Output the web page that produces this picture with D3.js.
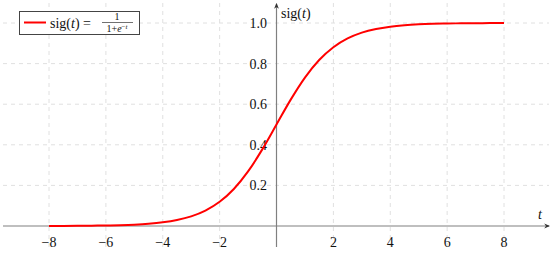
<!DOCTYPE html>
<html>
<head>
<meta charset="utf-8">
<script src="https://cdn.jsdelivr.net/npm/d3@7"></script>
<style>
  body { margin: 0; background: #fff; }
  svg text { font-family: "Liberation Serif", "DejaVu Serif", "Times New Roman", serif; }
</style>
</head>
<body>
<div id="chart"></div>
<script>
// values, every half unit of t
const tValues = [-8, -7.5, -7, -6.5, -6, -5.5, -5, -4.5, -4, -3.5, -3, -2.5, -2, -1.5, -1, -0.5,
  0, 0.5, 1, 1.5, 2, 2.5, 3, 3.5, 4, 4.5, 5, 5.5, 6, 6.5, 7, 7.5, 8];
const sigValues = [0.0003, 0.0006, 0.0009, 0.0015, 0.0025, 0.0041, 0.0067, 0.011, 0.018, 0.0293, 0.0474, 0.0759, 0.1192, 0.1824, 0.2689, 0.3775,
  0.5, 0.6225, 0.7311, 0.8176, 0.8808, 0.9241, 0.9526, 0.9707, 0.982, 0.989, 0.9933, 0.9959, 0.9975, 0.9985, 0.9991, 0.9994, 0.9997];
const xTicks = [-8, -6, -4, -2, 2, 4, 6, 8];
const yTicks = [0.2, 0.4, 0.6, 0.8, 1.0];
const yGrid = [0.2, 0.4, 0.6, 0.8, 1.0];

const width = 552, height = 254;

const svg = d3.select('#chart').append('svg')
  .attr('width', width)
  .attr('height', height);

const x = d3.scaleLinear().domain([-8, 8]).range([49, 504]);
const y = d3.scaleLinear().domain([0, 1]).range([226, 23]);

const defs = svg.append('defs');
defs.append('marker')
  .attr('id', 'arrow')
  .attr('viewBox', '0 0 10 10')
  .attr('refX', 8).attr('refY', 5)
  .attr('markerWidth', 6).attr('markerHeight', 6)
  .attr('markerUnits', 'userSpaceOnUse')
  .attr('orient', 'auto')
  .append('path')
  .attr('d', 'M0,1 L10,5 L0,9 L3,5 Z')
  .attr('fill', '#333');

// grid
svg.append('g')
  .selectAll('line')
  .data(xTicks)
  .join('line')
  .attr('x1', d => x(d)).attr('x2', d => x(d))
  .attr('y1', 3).attr('y2', 250)
  .attr('stroke', '#e0e0e0')
  .attr('stroke-width', 1)
  .attr('stroke-dasharray', '4,4');

svg.append('g')
  .selectAll('line')
  .data(yGrid)
  .join('line')
  .attr('x1', 3).attr('x2', 549)
  .attr('y1', d => y(d)).attr('y2', d => y(d))
  .attr('stroke', '#e0e0e0')
  .attr('stroke-width', 1)
  .attr('stroke-dasharray', '4,4');

// axes
svg.append('line')
  .attr('x1', 3).attr('x2', 549)
  .attr('y1', y(0)).attr('y2', y(0))
  .attr('stroke', '#808080')
  .attr('stroke-width', 1.2)
  .attr('marker-end', 'url(#arrow)');

svg.append('line')
  .attr('x1', x(0)).attr('x2', x(0))
  .attr('y1', 247).attr('y2', 4)
  .attr('stroke', '#808080')
  .attr('stroke-width', 1.2)
  .attr('marker-end', 'url(#arrow)');

// tick labels
svg.append('g')
  .selectAll('text')
  .data(xTicks)
  .join('text')
  .attr('x', d => x(d))
  .attr('y', 247)
  .attr('text-anchor', 'middle')
  .attr('font-size', 14)
  .attr('fill', '#111')
  .text(d => d < 0 ? '\u2212' + Math.abs(d) : d);

svg.append('g')
  .selectAll('text')
  .data(yTicks)
  .join('text')
  .attr('x', 267)
  .attr('y', d => y(d) + 5)
  .attr('text-anchor', 'end')
  .attr('font-size', 14)
  .attr('fill', '#111')
  .text(d => d.toFixed(1));

// axis labels
const yl = svg.append('text')
  .attr('x', 281).attr('y', 18)
  .attr('font-size', 14)
  .attr('fill', '#111');
yl.append('tspan').text('sig(');
yl.append('tspan').attr('font-style', 'italic').text('t');
yl.append('tspan').text(')');

svg.append('text')
  .attr('x', 538).attr('y', 219)
  .attr('font-size', 14)
  .attr('font-style', 'italic')
  .attr('fill', '#111')
  .text('t');

// curve
const points = tValues.map((t, i) => ({ t: t, s: sigValues[i] }));
svg.append('path')
  .datum(points)
  .attr('fill', 'none')
  .attr('stroke', '#ff0000')
  .attr('stroke-width', 2)
  .attr('d', d3.line()
    .x(d => x(d.t))
    .y(d => y(d.s))
    .curve(d3.curveMonotoneX));

// legend
const legend = svg.append('g');
legend.append('rect')
  .attr('x', 19.5).attr('y', 11.5)
  .attr('width', 120).attr('height', 23)
  .attr('fill', '#fff')
  .attr('stroke', '#444')
  .attr('stroke-width', 1);
legend.append('line')
  .attr('x1', 24).attr('x2', 46)
  .attr('y1', 22.5).attr('y2', 22.5)
  .attr('stroke', '#ff0000')
  .attr('stroke-width', 2);
const lt = legend.append('text')
  .attr('x', 50).attr('y', 28)
  .attr('font-size', 14)
  .attr('fill', '#111');
lt.append('tspan').text('sig(');
lt.append('tspan').attr('font-style', 'italic').text('t');
lt.append('tspan').text(') =');
legend.append('text')
  .attr('x', 117).attr('y', 20)
  .attr('text-anchor', 'middle')
  .attr('font-size', 10)
  .attr('fill', '#111')
  .text('1');
legend.append('line')
  .attr('x1', 102).attr('x2', 133)
  .attr('y1', 22.5).attr('y2', 22.5)
  .attr('stroke', '#111')
  .attr('stroke-width', 0.6);
const den = legend.append('text')
  .attr('x', 117).attr('y', 31.5)
  .attr('text-anchor', 'middle')
  .attr('font-size', 10)
  .attr('fill', '#111');
den.append('tspan').text('1+');
den.append('tspan').attr('font-style', 'italic').text('e');
den.append('tspan').attr('dy', -3).attr('font-size', 7).text('\u2212');
den.append('tspan').attr('font-size', 7).attr('font-style', 'italic').text('t');
</script>
</body>
</html>
